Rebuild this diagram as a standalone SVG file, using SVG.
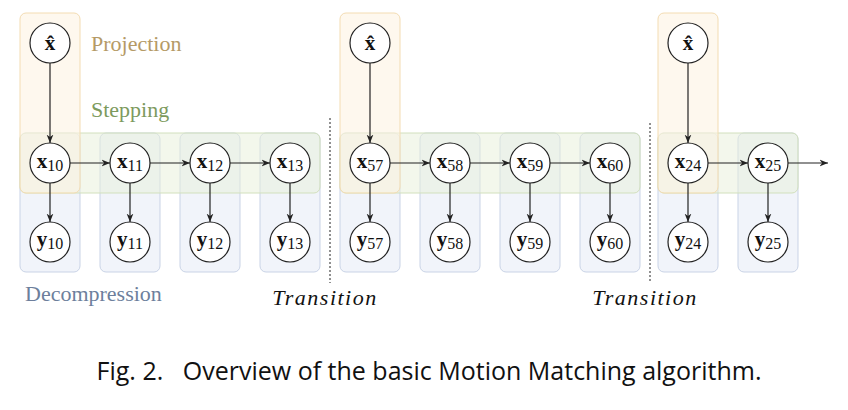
<svg xmlns="http://www.w3.org/2000/svg" width="848" height="410" viewBox="0 0 848 410">
<style>
.n circle{fill:#fff;stroke:#222;stroke-width:1.2}
.n text{font-family:"Liberation Serif",serif;font-size:21px;font-weight:bold;text-anchor:middle;fill:#111}
.n tspan.s{font-size:16px;font-weight:normal;fill:#111}
.proj{fill:#fdf3e3;fill-opacity:.6;stroke:#f3dcb2;stroke-width:1}
.dec{fill:#e6ebf6;fill-opacity:.55;stroke:#c9d3e6;stroke-width:1}
.step{fill:#e8f0da;fill-opacity:.5;stroke:#d2e0bd;stroke-width:1}
.c line{stroke:#222;stroke-width:1.2;marker-end:url(#a)}
text.lbl{font-family:"Liberation Serif",serif;font-size:22px}
</style>
<defs><marker id="a" viewBox="0 0 10 10" refX="10" refY="5" markerWidth="7" markerHeight="7" orient="auto"><path d="M0,1 L10,5 L0,9 L3,5z" fill="#222"/></marker></defs>
<rect width="848" height="410" fill="#fff"/>
<g id="regions">
<rect class="dec" x="20" y="133" width="60" height="139" rx="6"/>
<rect class="dec" x="100" y="133" width="60" height="139" rx="6"/>
<rect class="dec" x="180" y="133" width="60" height="139" rx="6"/>
<rect class="dec" x="260" y="133" width="60" height="139" rx="6"/>
<rect class="dec" x="340" y="133" width="60" height="139" rx="6"/>
<rect class="dec" x="420" y="133" width="60" height="139" rx="6"/>
<rect class="dec" x="500" y="133" width="60" height="139" rx="6"/>
<rect class="dec" x="580" y="133" width="60" height="139" rx="6"/>
<rect class="dec" x="658" y="133" width="60" height="139" rx="6"/>
<rect class="dec" x="738" y="133" width="60" height="139" rx="6"/>
<rect class="step" x="20" y="133" width="300" height="60" rx="6"/>
<rect class="step" x="340" y="133" width="300" height="60" rx="6"/>
<rect class="step" x="658" y="133" width="140" height="60" rx="6"/>
<rect class="proj" x="20" y="13" width="60" height="180" rx="6"/>
<rect class="proj" x="340" y="13" width="60" height="180" rx="6"/>
<rect class="proj" x="658" y="13" width="60" height="180" rx="6"/>
</g>
<g id="labels">
<text class="lbl" x="91" y="51" fill="#b59a66">Projection</text>
<text class="lbl" x="91" y="117" fill="#7d9a5e">Stepping</text>
<text class="lbl" x="25" y="301" fill="#6d7f9c">Decompression</text>
<text class="lbl" x="325" y="305" text-anchor="middle" font-style="italic" fill="#111" letter-spacing="1.5">Transition</text>
<text class="lbl" x="645" y="305" text-anchor="middle" font-style="italic" fill="#111" letter-spacing="1.5">Transition</text>
<text x="429" y="380" text-anchor="middle" font-family="'Open Sans',sans-serif" font-size="25" fill="#111" xml:space="preserve">Fig. 2.   Overview of the basic Motion Matching algorithm.</text>
</g>
<g id="dividers" stroke="#222" stroke-width="1" stroke-dasharray="2,2">
<line x1="330" y1="118" x2="330" y2="283"/>
<line x1="650" y1="123" x2="650" y2="283"/>
</g>
<g id="connectors" class="c">
<line x1="50" y1="63" x2="50" y2="143"/>
<line x1="370" y1="63" x2="370" y2="143"/>
<line x1="688" y1="63" x2="688" y2="143"/>
<line x1="70" y1="163" x2="110" y2="163"/>
<line x1="150" y1="163" x2="190" y2="163"/>
<line x1="230" y1="163" x2="270" y2="163"/>
<line x1="390" y1="163" x2="430" y2="163"/>
<line x1="470" y1="163" x2="510" y2="163"/>
<line x1="550" y1="163" x2="590" y2="163"/>
<line x1="708" y1="163" x2="748" y2="163"/>
<line x1="788" y1="163" x2="828" y2="163"/>
<line x1="50" y1="183" x2="50" y2="222"/>
<line x1="130" y1="183" x2="130" y2="222"/>
<line x1="210" y1="183" x2="210" y2="222"/>
<line x1="290" y1="183" x2="290" y2="222"/>
<line x1="370" y1="183" x2="370" y2="222"/>
<line x1="450" y1="183" x2="450" y2="222"/>
<line x1="530" y1="183" x2="530" y2="222"/>
<line x1="610" y1="183" x2="610" y2="222"/>
<line x1="688" y1="183" x2="688" y2="222"/>
<line x1="768" y1="183" x2="768" y2="222"/>
</g>
<g id="xh1" class="n"><circle cx="50" cy="43" r="20"/><text x="50" y="50">x̂</text></g>
<g id="xh2" class="n"><circle cx="370" cy="43" r="20"/><text x="370" y="50">x̂</text></g>
<g id="xh3" class="n"><circle cx="688" cy="43" r="20"/><text x="688" y="50">x̂</text></g>
<g id="x10" class="n"><circle cx="50" cy="163" r="20"/><text x="50" y="168">x<tspan class="s" dy="3">10</tspan></text></g>
<g id="x11" class="n"><circle cx="130" cy="163" r="20"/><text x="130" y="168">x<tspan class="s" dy="3">11</tspan></text></g>
<g id="x12" class="n"><circle cx="210" cy="163" r="20"/><text x="210" y="168">x<tspan class="s" dy="3">12</tspan></text></g>
<g id="x13" class="n"><circle cx="290" cy="163" r="20"/><text x="290" y="168">x<tspan class="s" dy="3">13</tspan></text></g>
<g id="x57" class="n"><circle cx="370" cy="163" r="20"/><text x="370" y="168">x<tspan class="s" dy="3">57</tspan></text></g>
<g id="x58" class="n"><circle cx="450" cy="163" r="20"/><text x="450" y="168">x<tspan class="s" dy="3">58</tspan></text></g>
<g id="x59" class="n"><circle cx="530" cy="163" r="20"/><text x="530" y="168">x<tspan class="s" dy="3">59</tspan></text></g>
<g id="x60" class="n"><circle cx="610" cy="163" r="20"/><text x="610" y="168">x<tspan class="s" dy="3">60</tspan></text></g>
<g id="x24" class="n"><circle cx="688" cy="163" r="20"/><text x="688" y="168">x<tspan class="s" dy="3">24</tspan></text></g>
<g id="x25" class="n"><circle cx="768" cy="163" r="20"/><text x="768" y="168">x<tspan class="s" dy="3">25</tspan></text></g>
<g id="y10" class="n"><circle cx="50" cy="242" r="20"/><text x="50" y="246">y<tspan class="s" dy="3">10</tspan></text></g>
<g id="y11" class="n"><circle cx="130" cy="242" r="20"/><text x="130" y="246">y<tspan class="s" dy="3">11</tspan></text></g>
<g id="y12" class="n"><circle cx="210" cy="242" r="20"/><text x="210" y="246">y<tspan class="s" dy="3">12</tspan></text></g>
<g id="y13" class="n"><circle cx="290" cy="242" r="20"/><text x="290" y="246">y<tspan class="s" dy="3">13</tspan></text></g>
<g id="y57" class="n"><circle cx="370" cy="242" r="20"/><text x="370" y="246">y<tspan class="s" dy="3">57</tspan></text></g>
<g id="y58" class="n"><circle cx="450" cy="242" r="20"/><text x="450" y="246">y<tspan class="s" dy="3">58</tspan></text></g>
<g id="y59" class="n"><circle cx="530" cy="242" r="20"/><text x="530" y="246">y<tspan class="s" dy="3">59</tspan></text></g>
<g id="y60" class="n"><circle cx="610" cy="242" r="20"/><text x="610" y="246">y<tspan class="s" dy="3">60</tspan></text></g>
<g id="y24" class="n"><circle cx="688" cy="242" r="20"/><text x="688" y="246">y<tspan class="s" dy="3">24</tspan></text></g>
<g id="y25" class="n"><circle cx="768" cy="242" r="20"/><text x="768" y="246">y<tspan class="s" dy="3">25</tspan></text></g>
</svg>
